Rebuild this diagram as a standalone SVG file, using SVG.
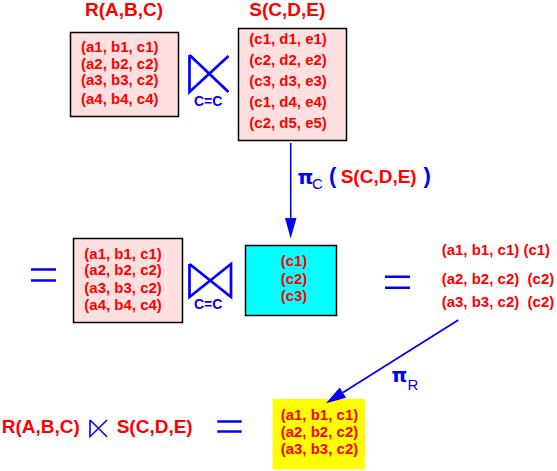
<svg xmlns="http://www.w3.org/2000/svg" width="557" height="471" viewBox="0 0 557 471">
<style>
.t{font-family:"Liberation Sans",Arial,sans-serif;font-weight:bold;font-size:15px;fill:#ff0000}
.title{font-family:"Liberation Sans",Arial,sans-serif;font-weight:bold;font-size:19px;fill:#ff0000}
.cc{font-family:"Liberation Sans",Arial,sans-serif;font-weight:bold;font-size:14px;fill:#0000ff}
.pi{font-family:"DejaVu Sans",sans-serif;font-weight:bold;font-size:20px;fill:#0000ff}
.sub{font-family:"Liberation Sans",Arial,sans-serif;font-size:15px;fill:#0000ff}
.bp{font-family:"Liberation Sans",Arial,sans-serif;font-weight:bold;font-size:22px;fill:#0000ff}
.box{stroke:#000;stroke-width:1.5}
.pink{fill:#ffe0e0}
.blue{stroke:#0000ff;fill:none}
.eq{stroke:#0000ff;stroke-width:2.5}
</style>
<g id="titleR"><text class="title" x="85" y="15.5">R(A,B,C)</text></g>
<g id="titleS"><text class="title" x="249.3" y="15.5">S(C,D,E)</text></g>
<g id="R1">
<rect class="box pink" x="70.5" y="32.5" width="108" height="84"/>
<text class="t" x="81" y="51.8">(a1, b1, c1)</text>
<text class="t" x="81" y="68.5">(a2, b2, c2)</text>
<text class="t" x="81" y="85.2">(a3, b3, c2)</text>
<text class="t" x="81" y="104">(a4, b4, c4)</text>
</g>
<g id="join1">
<path class="blue" stroke-width="2.7" d="M189.5,55 V92 L228.5,56 M189.5,55 L228.5,92"/>
<text class="cc" x="194" y="106">C=C</text>
</g>
<g id="S">
<rect class="box pink" x="238.5" y="28.5" width="108" height="112"/>
<text class="t" x="249.3" y="44.1">(c1, d1, e1)</text>
<text class="t" x="249.3" y="65.1">(c2, d2, e2)</text>
<text class="t" x="249.3" y="86.1">(c3, d3, e3)</text>
<text class="t" x="249.3" y="106.8">(c1, d4, e4)</text>
<text class="t" x="249.3" y="127.8">(c2, d5, e5)</text>
</g>
<g id="labelPiC">
<text class="pi" x="297.5" y="183.5">π</text>
<text class="sub" x="312" y="189.3">C</text>
<text class="bp" x="329" y="182.7">(</text>
<text class="title" x="340.7" y="182.5">S(C,D,E)</text>
<text class="bp" x="423.5" y="182.7">)</text>
</g>
<g id="eq1"><path class="eq" d="M31,269.5 H56 M31,280.5 H56"/></g>
<g id="R2">
<rect class="box pink" x="73.5" y="238.5" width="109" height="84"/>
<text class="t" x="84.3" y="258.5">(a1, b1, c1)</text>
<text class="t" x="84.3" y="275.1">(a2, b2, c2)</text>
<text class="t" x="84.3" y="292.5">(a3, b3, c2)</text>
<text class="t" x="84.3" y="310.1">(a4, b4, c4)</text>
</g>
<g id="join2">
<path class="blue" stroke-width="2.7" d="M189.5,264 V297 L231,264 V297 L189.5,264"/>
<text class="cc" x="194" y="309">C=C</text>
</g>
<g id="C">
<rect class="box" fill="#00ffff" x="245.5" y="245.5" width="91" height="70"/>
<text class="t" x="280.7" y="266.1">(c1)</text>
<text class="t" x="280.7" y="283.5">(c2)</text>
<text class="t" x="280.7" y="300.8">(c3)</text>
</g>
<g id="eq2"><path class="eq" stroke-width="2" d="M385,276.7 H410 M385,287.7 H410"/></g>
<g id="pairs">
<text class="t" x="441.7" y="255" xml:space="preserve">(a1, b1, c1) (c1)</text>
<text class="t" x="441.7" y="283.5" xml:space="preserve">(a2, b2, c2)  (c2)</text>
<text class="t" x="441.7" y="307" xml:space="preserve">(a3, b3, c2)  (c2)</text>
</g>
<g id="labelPiR">
<text class="pi" x="391.5" y="381.7">π</text>
<text class="sub" x="407.5" y="389.5">R</text>
</g>
<g id="bottomExpr">
<text class="title" x="1.7" y="433.3">R(A,B,C)</text>
<path class="blue" stroke-width="1.6" d="M90,420 V436.7 L107,420 M90,420 L107,436.7"/>
<text class="title" x="116.7" y="433.3">S(C,D,E)</text>
</g>
<g id="eq3"><path class="eq" d="M217.3,421.5 H241.7 M217.3,431.5 H241.7"/></g>
<g id="Result">
<rect fill="#ffff00" x="272.7" y="399" width="92.3" height="70.3"/>
<text class="t" x="280.7" y="419.5">(a1, b1, c1)</text>
<text class="t" x="280.7" y="436.8">(a2, b2, c2)</text>
<text class="t" x="280.7" y="454.1">(a3, b3, c2)</text>
</g>
<g id="connectors">
<line class="blue" stroke-width="1.6" x1="290.7" y1="143" x2="290.7" y2="222"/>
<polygon fill="#0000ff" points="285,218 296.5,218 290.7,238.5"/>
<line class="blue" stroke-width="1.8" x1="458.3" y1="320" x2="343" y2="392.6"/>
<polygon fill="#0000ff" points="346.1,397.7 339.7,387.5 326,403.3"/>
</g>
</svg>
